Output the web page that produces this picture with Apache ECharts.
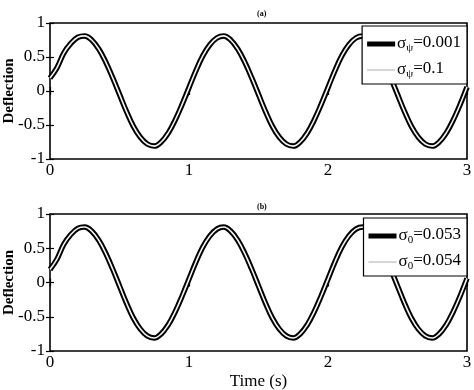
<!DOCTYPE html>
<html><head><meta charset="utf-8">
<script src="https://cdn.jsdelivr.net/npm/echarts@6/dist/echarts.min.js"></script>
<style>html,body{margin:0;padding:0;background:#fff}#c{width:474px;height:390px}</style>
</head><body><div id="c"></div>
<script>
// Time samples (s)
const time = [0.00,0.05,0.10,0.15,0.20,0.25,0.30,0.35,0.40,0.45,0.50,0.55,0.60,0.65,0.70,0.75,0.80,0.85,0.90,0.95,
              1.00,1.05,1.10,1.15,1.20,1.25,1.30,1.35,1.40,1.45,1.50,1.55,1.60,1.65,1.70,1.75,1.80,1.85,1.90,1.95,
              2.00,2.05,2.10,2.15,2.20,2.25,2.30,2.35,2.40,2.45,2.50,2.55,2.60,2.65,2.70,2.75,2.80,2.85,2.90,2.95,3.00];
// Panel (a): deflection (both sigma_psi curves overlap)
const deflectionA = [0.19,0.34,0.56,0.70,0.79,0.81,0.75,0.62,0.43,0.20,-0.05,-0.30,-0.52,-0.68,-0.78,-0.81,-0.75,-0.62,-0.43,-0.20,
                     0.05,0.30,0.52,0.68,0.78,0.81,0.75,0.62,0.43,0.20,-0.05,-0.30,-0.52,-0.68,-0.78,-0.81,-0.75,-0.62,-0.43,-0.20,
                     0.05,0.30,0.52,0.68,0.78,0.81,0.75,0.62,0.43,0.20,-0.05,-0.30,-0.52,-0.68,-0.78,-0.81,-0.75,-0.62,-0.43,-0.20,0.06];
// Panel (b): deflection (both sigma_0 curves overlap)
const deflectionB = [0.19,0.34,0.56,0.70,0.79,0.81,0.75,0.62,0.43,0.20,-0.05,-0.30,-0.52,-0.68,-0.78,-0.81,-0.75,-0.62,-0.43,-0.20,
                     0.05,0.30,0.52,0.68,0.78,0.81,0.75,0.62,0.43,0.20,-0.05,-0.30,-0.52,-0.68,-0.78,-0.81,-0.75,-0.62,-0.43,-0.20,
                     0.05,0.30,0.52,0.68,0.78,0.81,0.75,0.62,0.43,0.20,-0.05,-0.30,-0.52,-0.68,-0.78,-0.81,-0.75,-0.62,-0.43,-0.20,0.06];
const seriesNamesA = ['σψ=0.001','σψ=0.1'];
const seriesNamesB = ['σ0=0.053','σ0=0.054'];
const legendRich = {
  'σψ=0.001': '{s|σ}{sub|ψ}{t|=0.001}',
  'σψ=0.1': '{s|σ}{sub|ψ}{t|=0.1}',
  'σ0=0.053': '{s|σ}{sub|0}{t|=0.053}',
  'σ0=0.054': '{s|σ}{sub|0}{t|=0.054}'
};
const yTicks = [-1,-0.5,0,0.5,1];
const xTicks = [0,1,2,3];

const FONT = '"Liberation Serif","DejaVu Serif",serif';
const pair = (ys) => time.map((t,i)=>[t, ys[i]]);

const grids = [
  {left:50, right:7, top:23, height:136, show:true, borderColor:'#000', borderWidth:1.6, backgroundColor:'transparent', containLabel:false, outerBoundsMode:'none'},
  {left:50, right:7, top:214, height:137, show:true, borderColor:'#000', borderWidth:1.6, backgroundColor:'transparent', containLabel:false, outerBoundsMode:'none'}
];
function xAxes(gi, withName){
  return [{
    type:'value', gridIndex:gi, min:xTicks[0], max:xTicks[xTicks.length-1], interval:1, position:'bottom',
    axisLine:{show:false}, splitLine:{show:false},
    axisTick:{show:true, inside:true, length:4, lineStyle:{color:'#000', width:1.2}},
    axisLabel:{color:'#000', fontFamily:FONT, fontSize:17, margin:3},
    name: withName ? 'Time (s)' : '', nameLocation:'middle', nameGap:22, nameMoveOverlap:false,
    nameTextStyle:{color:'#000', fontFamily:FONT, fontSize:17}
  },{
    type:'value', gridIndex:gi, min:0, max:3, interval:1, position:'top',
    axisLine:{show:false}, splitLine:{show:false}, axisLabel:{show:false},
    axisTick:{show:true, inside:true, length:4, lineStyle:{color:'#000', width:1.2}}
  }];
}
function yAxes(gi){
  return [{
    type:'value', gridIndex:gi, min:-1, max:1, interval:0.5, position:'left',
    axisLine:{show:false}, splitLine:{show:false},
    axisTick:{show:true, inside:true, length:4, lineStyle:{color:'#000', width:1.2}},
    axisLabel:{color:'#000', fontFamily:FONT, fontSize:17, margin:5},
    name:'Deflection', nameLocation:'middle', nameGap:33, nameMoveOverlap:false,
    nameTextStyle:{color:'#000', fontFamily:FONT, fontSize:15, fontWeight:'bold'}
  },{
    type:'value', gridIndex:gi, min:-1, max:1, interval:0.5, position:'right',
    axisLine:{show:false}, splitLine:{show:false}, axisLabel:{show:false},
    axisTick:{show:true, inside:true, length:4, lineStyle:{color:'#000', width:1.2}}
  }];
}
function legendFor(names, top){
  return {
    orient:'vertical', right:7, top:top, padding:[5,6,4,5], itemGap:3,
    backgroundColor:'#fff', borderColor:'#000', borderWidth:1.2, borderRadius:0,
    itemWidth:28, itemHeight:5,
    data:[
      {name:names[0], icon:'path://M0,0H28V5H0Z', itemStyle:{color:'#000'}},
      {name:names[1], icon:'path://M0,0H28V1.5H0Z', itemStyle:{color:'#c8c8c8'}}
    ],
    formatter:(n)=>legendRich[n],
    textStyle:{color:'#000', fontFamily:FONT, padding:[0,0,0,-3],
      rich:{
        s:{fontFamily:FONT, fontSize:17, lineHeight:20, verticalAlign:'middle', color:'#000'},
        sub:{fontFamily:FONT, fontSize:11, lineHeight:20, verticalAlign:'bottom', padding:[12,0,0,0], color:'#000'},
        t:{fontFamily:FONT, fontSize:17, lineHeight:20, verticalAlign:'top', padding:[0,0,3,0], color:'#000'}
      }}
  };
}
function seriesPair(names, ys, xi, yi){
  return [
    {name:names[0], type:'line', xAxisIndex:xi, yAxisIndex:yi, data:pair(ys), smooth:0.4,
     showSymbol:false, symbol:'none', lineStyle:{color:'#000', width:5.5}, itemStyle:{color:'#000'}, z:2, animation:false},
    {name:names[1], type:'line', xAxisIndex:xi, yAxisIndex:yi, data:pair(ys), smooth:0.4,
     showSymbol:false, symbol:'none', lineStyle:{color:'#f4f4f4', width:1.6}, itemStyle:{color:'#c8c8c8'}, z:3, animation:false}
  ];
}
const chart = echarts.init(document.getElementById('c'), null, {renderer:'canvas'});
chart.setOption({
  animation:false,
  backgroundColor:'#fff',
  title:[
    {text:'(a)', left:252, top:5, textStyle:{fontFamily:FONT, fontSize:8, fontWeight:'bold', color:'#000'}},
    {text:'(b)', left:252, top:198, textStyle:{fontFamily:FONT, fontSize:8, fontWeight:'bold', color:'#000'}}
  ],
  grid:grids,
  xAxis:[...xAxes(0,false), ...xAxes(1,true)],
  yAxis:[...yAxes(0), ...yAxes(1)],
  legend:[legendFor(seriesNamesA, 26), legendFor(seriesNamesB, 218)],
  series:[...seriesPair(seriesNamesA, deflectionA, 0, 0), ...seriesPair(seriesNamesB, deflectionB, 2, 2)]
});
</script></body></html>
